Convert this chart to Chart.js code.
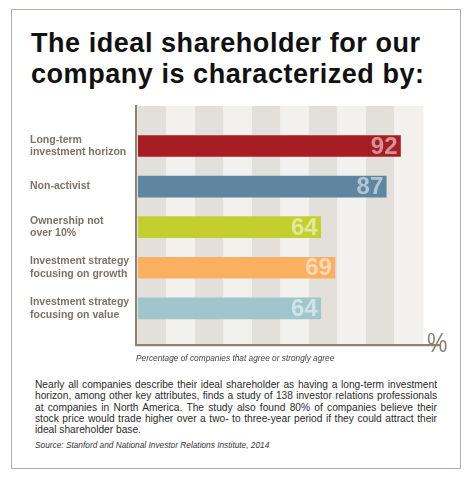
<!DOCTYPE html>
<html>
<head>
<meta charset="utf-8">
<script src="https://cdn.jsdelivr.net/npm/chart.js@4/dist/chart.umd.min.js"></script>
<style>
  html, body { margin: 0; padding: 0; background: #fff; }
  body { width: 472px; height: 480px; position: relative; overflow: hidden; font-family: "Liberation Sans", Arial, sans-serif; }
  #frame { position: absolute; left: 11px; top: 9px; width: 450px; height: 460px; border: 1.5px solid #b3ada3; box-sizing: border-box; }
  #title { position: absolute; left: 31px; top: 28px; margin: 0; font-weight: bold; font-size: 27px; line-height: 31px; letter-spacing: 0.55px; color: #111; white-space: nowrap; }
  #chartBox { position: absolute; left: 0; top: 0; width: 472px; height: 372px; }
  #pct { position: absolute; left: 427px; top: 328px; font-size: 27px; color: #8a8070; transform: scaleX(0.85); transform-origin: left top; line-height: 30px; }
  #para { position: absolute; left: 35px; top: 379px; width: 402px; font-size: 10.2px; line-height: 11.3px; color: #2b2b2b; }
  #para span { display: block; text-align: justify; text-align-last: justify; white-space: nowrap; }
  #para span.last { text-align-last: left; }
  #source { position: absolute; left: 35px; top: 440px; font-size: 8.3px; font-style: italic; color: #333; }
</style>
</head>
<body>
<div id="frame"></div>
<h1 id="title">The ideal shareholder for our<br>company is characterized by:</h1>
<div id="chartBox"><canvas id="c"></canvas></div>
<div id="pct">%</div>
<div id="para">
<span>Nearly all companies describe their ideal shareholder as having a long-term investment</span>
<span>horizon, among other key attributes, finds a study of 138 investor relations professionals</span>
<span>at companies in North America. The study also found 80% of companies believe their</span>
<span>stock price would trade higher over a two- to three-year period if they could attract their</span>
<span class="last">ideal shareholder base.</span>
</div>
<div id="source">Source: Stanford and National Investor Relations Institute, 2014</div>
<script>
const categories = [
  ["Long-term", "investment horizon"],
  ["Non-activist"],
  ["Ownership not", "over 10%"],
  ["Investment strategy", "focusing on growth"],
  ["Investment strategy", "focusing on value"]
];
const values = [92, 87, 64, 69, 64];
const barColors = ["#a61d24", "#5e86a0", "#c3cf2f", "#fbb061", "#9ec6cc"];
const stripeCenters = [5, 15, 25, 35, 45, 55, 65, 75, 85, 95];
const axisTitle = "Percentage of companies that agree or strongly agree";

const valueLabels = {
  id: 'valueLabels',
  afterDatasetsDraw(chart) {
    const ctx = chart.ctx;
    const meta = chart.getDatasetMeta(0);
    ctx.save();
    ctx.font = "bold 24px 'Liberation Sans', Arial, sans-serif";
    ctx.textAlign = 'right';
    ctx.textBaseline = 'middle';
    ctx.fillStyle = 'rgba(255,255,255,0.52)';
    meta.data.forEach((bar, i) => {
      ctx.fillText(String(values[i]), bar.x - 3, bar.y + 1);
    });
    ctx.restore();
  }
};

new Chart(document.getElementById('c'), {
  type: 'bar',
  data: {
    datasets: [{
      data: values.map((v, i) => ({ x: v, y: i })),
      backgroundColor: barColors,
      borderWidth: 0,
      barThickness: 21
    }]
  },
  options: {
    indexAxis: 'y',
    responsive: true,
    maintainAspectRatio: false,
    animation: false,
    layout: { padding: { left: 30, top: 106, right: 45.3, bottom: 8 } },
    plugins: { legend: { display: false }, tooltip: { enabled: false } },
    scales: {
      x: {
        type: 'linear',
        min: -0.8,
        max: 101.2,
        afterBuildTicks: s => { s.ticks = stripeCenters.map(v => ({ value: v })); },
        afterFit: s => { s.height = 18.5; },
        ticks: { display: false },
        grid: {
          drawTicks: false,
          lineWidth: 28.5,
          color: c => (c.index % 2 === 0 ? '#e3e0db' : '#f3f1ee')
        },
        border: { display: true, color: '#8b8273', width: 2.2, z: 1 },
        title: {
          display: true,
          text: axisTitle,
          align: 'start',
          color: '#444',
          padding: { top: 0, bottom: 0 },
          font: { family: "'Liberation Sans', Arial, sans-serif", size: 8.3, style: 'italic' }
        }
      },
      y: {
        type: 'linear',
        reverse: true,
        offset: false,
        min: -0.985,
        max: 4.916,
        afterBuildTicks: s => { s.ticks = categories.map((c, i) => ({ value: i })); },
        afterFit: s => { s.width = 106; },
        grid: { display: false, drawTicks: false, offset: false },
        border: { display: true, color: '#8b8273', width: 2.2, z: 1 },
        ticks: {
          crossAlign: 'far',
          padding: 0,
          color: '#7a7268',
          font: { family: "'Liberation Sans', Arial, sans-serif", size: 10.5, weight: 'bold', lineHeight: 1.2 },
          callback: v => categories[v]
        }
      }
    }
  },
  plugins: [valueLabels]
});
</script>
</body>
</html>
